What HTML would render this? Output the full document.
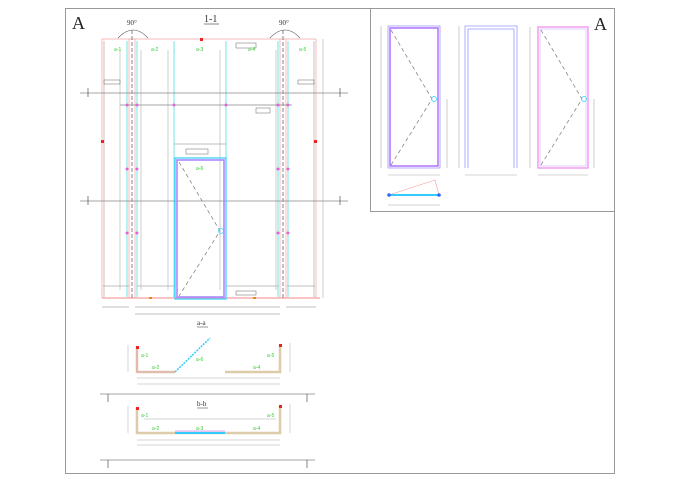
<!DOCTYPE html>
<html><head><meta charset="utf-8"><style>
html,body{margin:0;padding:0;background:#fff;}
svg{display:block}
</style></head><body>
<svg width="680" height="481" viewBox="0 0 680 481" xmlns="http://www.w3.org/2000/svg" font-family="Liberation Sans, sans-serif">
<rect x="0" y="0" width="680" height="481" fill="#fff"/>
<rect x="65.5" y="8.5" width="549" height="465" fill="none" stroke="#999" stroke-width="1"/>
<line x1="370.5" y1="8" x2="370.5" y2="211.5" stroke="#999"/>
<line x1="370" y1="211.5" x2="614" y2="211.5" stroke="#999"/>
<text x="72" y="29" style="font-family:'Liberation Serif',serif" font-size="18" fill="#222">A</text>
<text x="594" y="30" style="font-family:'Liberation Serif',serif" font-size="18" fill="#222">A</text>
<text x="204" y="22" style="font-family:'Liberation Serif',serif" font-size="10" fill="#333">1-1</text>
<line x1="204" y1="24" x2="219" y2="24" stroke="#333" stroke-width="0.6"/>
<text x="127" y="25" style="font-family:'Liberation Serif',serif" font-size="7" fill="#333">90°</text>
<text x="279" y="25" style="font-family:'Liberation Serif',serif" font-size="7" fill="#333">90°</text>
<path d="M118 38 Q133 22 148 38" fill="none" stroke="#555" stroke-width="0.6"/>
<path d="M270 38 Q285 22 300 38" fill="none" stroke="#555" stroke-width="0.6"/>
<g fill="none" stroke-width="0.7">
<line x1="102" y1="39" x2="316" y2="39" stroke="#f5a0a0"/>
<line x1="102" y1="298" x2="320" y2="298" stroke="#f5a0a0" stroke-width="1.2"/>
<line x1="102" y1="39" x2="102" y2="298" stroke="#f5a0a0"/>
<line x1="316" y1="39" x2="316" y2="298" stroke="#f5a0a0"/>
<line x1="104" y1="41" x2="104" y2="297" stroke="#aaa"/>
<line x1="129" y1="39" x2="129" y2="298" stroke="#f5a0a0"/>
<line x1="127" y1="41" x2="127" y2="297" stroke="#3dd"/>
<line x1="135" y1="39" x2="135" y2="298" stroke="#f5a0a0"/>
<line x1="137" y1="41" x2="137" y2="297" stroke="#3dd"/>
<line x1="280" y1="39" x2="280" y2="298" stroke="#f5a0a0"/>
<line x1="278" y1="41" x2="278" y2="297" stroke="#3dd"/>
<line x1="286" y1="39" x2="286" y2="298" stroke="#f5a0a0"/>
<line x1="288" y1="41" x2="288" y2="297" stroke="#3dd"/>
<line x1="314" y1="41" x2="314" y2="297" stroke="#aaa"/>
<line x1="132" y1="30" x2="132" y2="300" stroke="#555" stroke-dasharray="4,2"/>
<line x1="283" y1="30" x2="283" y2="300" stroke="#555" stroke-dasharray="4,2"/>
<line x1="174" y1="41" x2="174" y2="297" stroke="#3dd"/>
<line x1="226" y1="41" x2="226" y2="297" stroke="#3dd"/>
<line x1="120" y1="50" x2="120" y2="290" stroke="#bbb"/>
<line x1="168" y1="50" x2="168" y2="290" stroke="#bbb"/>
<line x1="220" y1="50" x2="220" y2="290" stroke="#bbb"/>
<line x1="141" y1="50" x2="141" y2="290" stroke="#bbb"/>
<line x1="276" y1="50" x2="276" y2="290" stroke="#bbb"/>
<line x1="323" y1="39" x2="323" y2="298" stroke="#bbb"/>
<line x1="80" y1="93" x2="348" y2="93" stroke="#888"/>
<line x1="80" y1="201" x2="348" y2="201" stroke="#888"/>
<line x1="120" y1="105" x2="292" y2="105" stroke="#888"/>
<line x1="103" y1="286" x2="129" y2="286" stroke="#aaa"/>
<line x1="137" y1="286" x2="174" y2="286" stroke="#aaa"/>
<line x1="226" y1="286" x2="279" y2="286" stroke="#aaa"/>
<line x1="287" y1="286" x2="315" y2="286" stroke="#aaa"/>
<line x1="102" y1="307" x2="129" y2="307" stroke="#aaa"/>
<line x1="135" y1="307" x2="280" y2="307" stroke="#aaa"/>
<line x1="286" y1="307" x2="316" y2="307" stroke="#aaa"/>
<line x1="135" y1="314" x2="280" y2="314" stroke="#aaa"/>
<line x1="174" y1="144" x2="226" y2="144" stroke="#aaa"/>
<rect x="175" y="158" width="51" height="141" stroke="#3cf" stroke-width="1.2"/>
<rect x="177" y="160" width="47" height="137" stroke="#a8f" stroke-width="1.6"/>
<path d="M179 162 L220 231 L179 296" stroke="#777" stroke-dasharray="4,3"/>
<circle cx="221" cy="231" r="2.5" stroke="#3cf"/>
<rect x="236" y="43" width="20" height="5" stroke="#666" stroke-width="0.5"/>
<rect x="256" y="108" width="14" height="5" stroke="#666" stroke-width="0.5"/>
<rect x="104" y="80" width="16" height="4" stroke="#666" stroke-width="0.5"/>
<rect x="298" y="80" width="16" height="4" stroke="#666" stroke-width="0.5"/>
<rect x="186" y="149" width="22" height="5" stroke="#666" stroke-width="0.5"/>
<rect x="236" y="291" width="20" height="4" stroke="#666" stroke-width="0.5"/>
<path d="M88 88 V97 M88 196 V205 M340 88 V97 M340 196 V205" stroke="#333" stroke-width="0.6"/>
</g>
<rect x="200" y="38" width="3" height="3" fill="#e22"/>
<rect x="101" y="140" width="3" height="3" fill="#e22"/>
<rect x="314" y="140" width="3" height="3" fill="#e22"/>
<rect x="149" y="297" width="3" height="2" fill="#e80"/>
<rect x="253" y="297" width="3" height="2" fill="#e80"/>
<g fill="#d6d">
<circle cx="127" cy="105" r="1.5"/><circle cx="137" cy="105" r="1.5"/><circle cx="174" cy="105" r="1.5"/><circle cx="226" cy="105" r="1.5"/><circle cx="278" cy="105" r="1.5"/><circle cx="288" cy="105" r="1.5"/>
<circle cx="127" cy="169" r="1.5"/><circle cx="137" cy="169" r="1.5"/><circle cx="278" cy="169" r="1.5"/><circle cx="288" cy="169" r="1.5"/>
<circle cx="127" cy="233" r="1.5"/><circle cx="137" cy="233" r="1.5"/><circle cx="278" cy="233" r="1.5"/><circle cx="288" cy="233" r="1.5"/>
</g>
<g font-size="5" fill="#3c3">
<text x="114" y="51">a-1</text><text x="151" y="51">a-2</text><text x="196" y="51">a-3</text><text x="248" y="51">a-4</text><text x="299" y="51">a-5</text><text x="196" y="170">a-6</text>
</g>
<g fill="none" stroke-width="0.8">
<rect x="388" y="26" width="52" height="142" stroke="#99f"/>
<rect x="390" y="28" width="48" height="138" stroke="#a6f" stroke-width="1.4"/>
<path d="M391 30 L432 99 L391 165" stroke="#888" stroke-dasharray="4,3"/>
<circle cx="434" cy="99" r="2.5" stroke="#3cf"/>
<path d="M465 168 L465 26 L517 26 L517 168 M468 168 L468 29 L514 29 L514 168" stroke="#99f"/>
<rect x="538" y="27" width="50" height="141" stroke="#e9e" stroke-width="1.4"/>
<rect x="540" y="29" width="46" height="137" stroke="#c9f" stroke-width="0.5"/>
<path d="M541 30 L582 99 L541 165" stroke="#888" stroke-dasharray="4,3"/>
<circle cx="584" cy="99" r="2.5" stroke="#3cf"/>
<path d="M381 26 V168 M459 26 V168 M530 27 V168 M447 99 V168 M594 99 V168 M388 175 H440 M465 175 H517 M538 175 H588 M388 205 H440" stroke="#aaa" stroke-width="0.6"/>
<path d="M389 195 L435 180 L439 195" stroke="#f99" stroke-width="0.6"/>
</g>
<line x1="389" y1="195" x2="439" y2="195" stroke="#3cf" stroke-width="2"/>
<circle cx="389" cy="195" r="1.8" fill="#36f"/><circle cx="439" cy="195" r="1.8" fill="#36f"/>
<text x="197" y="325" style="font-family:'Liberation Serif',serif" font-size="7" fill="#333">a-a</text>
<line x1="197" y1="327" x2="208" y2="327" stroke="#333" stroke-width="0.5"/>
<text x="197" y="406" style="font-family:'Liberation Serif',serif" font-size="7" fill="#333">b-b</text>
<line x1="197" y1="408" x2="208" y2="408" stroke="#333" stroke-width="0.5"/>
<g fill="none">
<path d="M137 347 V372 H175" stroke="#dca" stroke-width="2.5"/>
<path d="M137 347 V372 H175" stroke="#e8b" stroke-width="0.6"/>
<path d="M225 372 H280 V345" stroke="#dca" stroke-width="2.5"/>
<line x1="175" y1="372" x2="210" y2="338" stroke="#3cf" stroke-width="1.5" stroke-dasharray="2,1"/>
<path d="M137 408 V433 H280 V406" stroke="#dca" stroke-width="2.5"/>
<line x1="175" y1="433" x2="225" y2="433" stroke="#3cf" stroke-width="2"/>
<line x1="175" y1="431" x2="225" y2="431" stroke="#c8f" stroke-width="0.8"/>
<path d="M100 394 H315 M100 460 H315" stroke="#888" stroke-width="0.7"/>
<path d="M137 378 H280 M137 384 H280 M137 440 H280 M137 445 H280 M144 419 H276" stroke="#aaa" stroke-width="0.5"/>
<path d="M128 345 V372 M290 343 V372 M128 406 V433 M290 404 V433" stroke="#aaa" stroke-width="0.5"/>
<path d="M108 394 V402 M307 394 V402 M108 460 V468 M307 460 V468" stroke="#333" stroke-width="0.6"/>
</g>
<rect x="136" y="346" width="3" height="3" fill="#e22"/><rect x="279" y="344" width="3" height="3" fill="#e22"/>
<rect x="136" y="407" width="3" height="3" fill="#e22"/><rect x="279" y="405" width="3" height="3" fill="#e22"/>
<g font-size="5" fill="#3c3">
<text x="141" y="357">a-1</text><text x="152" y="369">a-2</text><text x="196" y="361">a-6</text><text x="253" y="369">a-4</text><text x="267" y="357">a-5</text>
<text x="141" y="417">a-1</text><text x="152" y="430">a-2</text><text x="196" y="430">a-3</text><text x="253" y="430">a-4</text><text x="267" y="417">a-5</text>
</g>
</svg>
</body></html>
